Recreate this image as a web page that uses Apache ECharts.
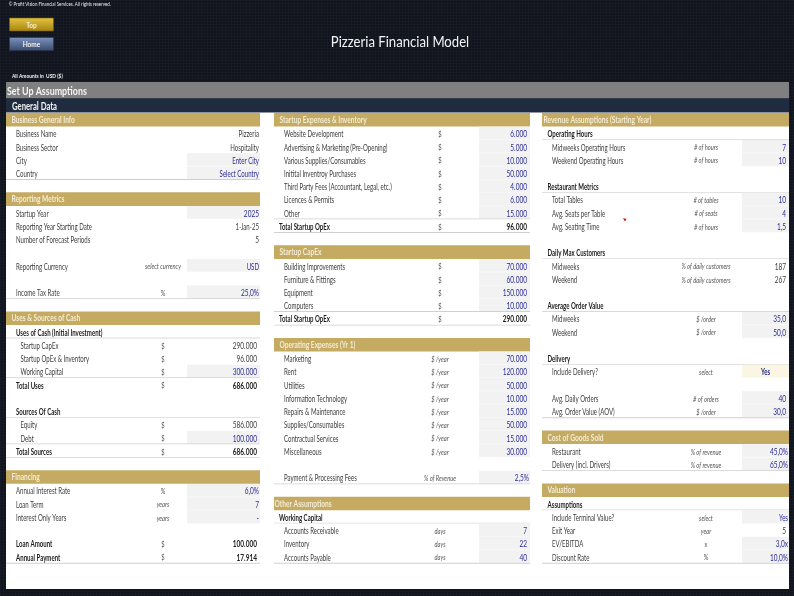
<!DOCTYPE html>
<html>
<head>
<meta charset="utf-8">
<style>html,body{margin:0;padding:0;background:#11141d}#main{width:794px;height:596px;filter:blur(0.35px)}</style>
<script src="https://cdn.jsdelivr.net/npm/echarts@6/dist/echarts.min.js"></script>
</head>
<body>
<div id="main"></div>
<script>
// rows: [label, unit, value, kind]  kind: in = input cell, sub = sub heading, tot = total, ind = indented, yes = select cell
const businessInfo = [
  ['Business Name', '', 'Pizzeria'],
  ['Business Sector', '', 'Hospitality'],
  ['City', '', 'Enter City', 'in'],
  ['Country', '', 'Select Country', 'in']
];
const reportingMetrics = [
  ['Startup Year', '', '2025', 'in'],
  ['Reporting Year Starting Date', '', '1-Jan-25'],
  ['Number of Forecast Periods', '', '5'],
  null,
  ['Reporting Currency', 'select currency', 'USD', 'in'],
  null,
  ['Income Tax Rate', '%', '25,0%', 'in']
];
const usesSources = [
  ['Uses of Cash (Initial Investment)', '', '', 'sub'],
  ['Startup CapEx', '$', '290.000', 'ind'],
  ['Startup OpEx & Inventory', '$', '96.000', 'ind'],
  ['Working Capital', '$', '300.000', 'indin'],
  ['Total Uses', '$', '686.000', 'tot'],
  null,
  ['Sources Of Cash', '', '', 'sub'],
  ['Equity', '$', '586.000', 'ind'],
  ['Debt', '$', '100.000', 'indin'],
  ['Total Sources', '$', '686.000', 'tot']
];
const financing = [
  ['Annual Interest Rate', '%', '6,0%', 'in'],
  ['Loan Term', 'years', '7', 'in'],
  ['Interest Only Years', 'years', '-', 'in'],
  null,
  ['Loan Amount', '$', '100.000', 'bold'],
  ['Annual Payment', '$', '17.914', 'bold']
];
const startupExpenses = [
  ['Website Development', '$', '6.000', 'in'],
  ['Advertising & Marketing (Pre-Opening)', '$', '5.000', 'in'],
  ['Various Supplies/Consumables', '$', '10.000', 'in'],
  ['Initital Inventroy Purchases', '$', '50.000', 'in'],
  ['Third Party Fees (Accountant, Legal, etc.)', '$', '4.000', 'in'],
  ['Licences & Permits', '$', '6.000', 'in'],
  ['Other', '$', '15.000', 'in'],
  ['Total Startup OpEx', '$', '96.000', 'tot']
];
const startupCapex = [
  ['Building Improvements', '$', '70.000', 'in'],
  ['Furniture & Fittings', '$', '60.000', 'in'],
  ['Equipment', '$', '150.000', 'in'],
  ['Computers', '$', '10.000', 'in'],
  ['Total Startup OpEx', '$', '290.000', 'tot']
];
const operatingExpenses = [
  ['Marketing', '$ /year', '70.000', 'in'],
  ['Rent', '$ /year', '120.000', 'in'],
  ['Utilities', '$ /year', '50.000', 'in'],
  ['Information Technology', '$ /year', '10.000', 'in'],
  ['Repairs & Maintenance', '$ /year', '15.000', 'in'],
  ['Supplies/Consumables', '$ /year', '50.000', 'in'],
  ['Contractual Services', '$ /year', '15.000', 'in'],
  ['Miscellaneous', '$ /year', '30.000', 'in'],
  null,
  ['Payment & Processing Fees', '% of Revenue', '2,5%', 'in']
];
const otherAssumptions = [
  ['Working Capital', '', '', 'sub'],
  ['Accounts Receivable', 'days', '7', 'in'],
  ['Inventory', 'days', '22', 'in'],
  ['Accounts Payable', 'days', '40', 'in']
];
const revenueAssumptions = [
  ['Operating Hours', '', '', 'sub'],
  ['Midweeks Operating Hours', '# of hours', '7', 'in'],
  ['Weekend Operating Hours', '# of hours', '10', 'in'],
  null,
  ['Restaurant Metrics', '', '', 'sub'],
  ['Total Tables', '# of tables', '10', 'in'],
  ['Avg. Seats per Table', '# of seats', '4', 'in'],
  ['Avg. Seating Time', '# of hours', '1,5', 'in'],
  null,
  ['Daily Max Customers', '', '', 'sub'],
  ['Midweeks', '% of daily customers', '187'],
  ['Weekend', '% of daily customers', '267'],
  null,
  ['Average Order Value', '', '', 'sub'],
  ['Midweeks', '$ /order', '35,0', 'in'],
  ['Weekend', '$ /order', '50,0', 'in'],
  null,
  ['Delivery', '', '', 'sub'],
  ['Include Delivery?', 'select', 'Yes', 'yes'],
  null,
  ['Avg. Daily Orders', '# of orders', '40', 'in'],
  ['Avg. Order Value (AOV)', '$ /order', '30,0', 'in']
];
const costOfGoods = [
  ['Restaurant', '% of revenue', '45,0%', 'in'],
  ['Delivery (incl. Drivers)', '% of revenue', '65,0%', 'in']
];
const valuation = [
  ['Assumptions', '', '', 'sub'],
  ['Include Terminal Value?', 'select', 'Yes', 'in'],
  ['Exit Year', 'year', '5'],
  ['EV/EBITDA', 'x', '3,0x', 'in'],
  ['Discount Rate', '%', '10,0%', 'in']
];

// column geometry, panel = [title, rows, start row on the shared sheet grid, title inset]
const columns = [
  { left: 6, right: 260, unitX: 163, boxX: 187, labelX: 16, subX: 16, totX: 16, panels: [
    ['Business General Info', businessInfo, -1, 5.5],
    ['Reporting Metrics', reportingMetrics, 5, 5.5],
    ['Uses & Sources of Cash', usesSources, 14, 5.5],
    ['Financing', financing, 26, 5.5]
  ] },
  { left: 274, right: 530, unitX: 440, boxX: 479, labelX: 284, subX: 279, totX: 279, panels: [
    ['Startup Expenses & Inventory', startupExpenses, -1, 5.5],
    ['Startup CapEx', startupCapex, 9, 5.5],
    ['Operating Expenses (Yr 1)', operatingExpenses, 16, 5.5],
    ['Other Assumptions', otherAssumptions, 28, 0.5]
  ] },
  { left: 542, right: 789, unitX: 706, boxX: 742, labelX: 552, subX: 547.5, totX: 547.5, panels: [
    ['Revenue Assumptions (Starting Year)', revenueAssumptions, -1, 1.5],
    ['Cost of Goods Sold', costOfGoods, 23, 5.5],
    ['Valuation', valuation, 27, 5.5]
  ] }
];

const ROW_H = 13.23;
const ROW_TOP = 126.2;
const FONT = 'Lato,"Liberation Sans",sans-serif';
const SQUEEZE = 0.66; // the sheet photo is squeezed sideways
const els = [];

function rect(x, y, w, h, fill) {
  els.push({ type: 'rect', silent: true, shape: { x, y, width: w, height: h }, style: { fill } });
}
function label(x, y, text, size, fill, opt) {
  opt = opt || {};
  els.push({
    type: 'text', silent: true, x, y, scaleX: opt.sx || SQUEEZE,
    style: {
      text, fill,
      font: (opt.italic ? 'italic ' : '') + (opt.bold ? 'bold ' : '') + size + 'px ' + FONT,
      align: opt.align || 'left', verticalAlign: 'middle'
    }
  });
}
function rowY(r) { return ROW_TOP + r * ROW_H; }

// sheet frame
const patternCanvas = document.createElement('canvas');
patternCanvas.width = patternCanvas.height = 3;
const pctx = patternCanvas.getContext('2d');
pctx.fillStyle = '#11141d';
pctx.fillRect(0, 0, 3, 3);
pctx.fillStyle = '#161a24';
pctx.fillRect(0, 0, 1, 3);
pctx.fillRect(0, 0, 3, 1);
els.push({ type: 'rect', silent: true, shape: { x: 0, y: 0, width: 794, height: 596 }, style: { fill: { image: patternCanvas, repeat: 'repeat' } } });
rect(6, 112, 783, 477, '#ffffff');
rect(6, 82, 783, 16.5, '#808080');
rect(6, 98.5, 783, 14, '#1f2c3f');

label(8.7, 4.5, '\u00a9 Profit Vision Financial Services. All rights reserved.', 5.4, '#e8e8e8', { sx: 0.82 });
label(12, 76, 'All Amounts in  USD ($)', 6.4, '#f2f2f2', { bold: true, sx: 0.76 });
label(400, 42, 'Pizzeria Financial Model', 16, '#f4f4f4', { align: 'center', sx: 0.82 });
label(7, 91, 'Set Up Assumptions', 12, '#f5f5f5', { bold: true, sx: 0.74 });
label(12, 106, 'General Data', 11, '#f2f2f2', { bold: true, sx: 0.7 });

// nav buttons
els.push({ type: 'rect', silent: true, shape: { x: 9.5, y: 18, width: 44, height: 13 }, style: {
  fill: new echarts.graphic.LinearGradient(0, 0, 0, 1, [{ offset: 0, color: '#e6c440' }, { offset: 1, color: '#a58412' }]),
  stroke: '#6f5c10', lineWidth: 0.6 } });
els.push({ type: 'rect', silent: true, shape: { x: 9.5, y: 37.5, width: 44, height: 13 }, style: {
  fill: new echarts.graphic.LinearGradient(0, 0, 0, 1, [{ offset: 0, color: '#7c93c0' }, { offset: 1, color: '#3b4a6b' }]),
  stroke: '#2a3550', lineWidth: 0.6 } });
label(31.5, 25, 'Top', 8, '#f5f0d8', { align: 'center', bold: true, sx: 0.82 });
label(31.5, 44.5, 'Home', 8, '#f0f0f0', { align: 'center', bold: true, sx: 0.82 });

columns.forEach(function (col) {
  const width = col.right - col.left;
  col.panels.forEach(function (panel) {
    const title = panel[0], rows = panel[1], start = panel[2], inset = panel[3];
    rect(col.left, rowY(start), width, ROW_H + 0.4, '#c5aa62');
    label(col.left + inset, rowY(start) + 6.8, title, 10, '#f3ecd6', { bold: true, sx: 0.66 });

    rows.forEach(function (row, i) {
      if (!row) return;
      const r = start + 1 + i;
      const top = rowY(r), mid = top + ROW_H / 2 + 1.5;
      const kind = row[3] || '';
      const isInput = kind === 'in' || kind === 'indin';
      const isBold = kind === 'sub' || kind === 'tot' || kind === 'bold';

      if (isInput) {
        rect(col.boxX, top + 0.5, col.right - col.boxX, ROW_H - 0.2, '#f2f2f2');
        rect(col.boxX, top + ROW_H - 0.2, col.right - col.boxX, 0.5, '#fafafa');
      }
      if (kind === 'yes') rect(col.boxX, top + 0.5, col.right - col.boxX, ROW_H - 0.2, '#fbf6e4');
      if (kind === 'sub') rect(col.left, top + ROW_H - 0.3, width, 0.8, '#d9d9d9');
      if (kind === 'tot') rect(col.left, top - 0.3, width, 0.8, '#d0d0d0');

      let x = col.labelX;
      if (kind === 'sub') x = col.subX;
      if (kind === 'tot' || kind === 'bold') x = col.totX;
      if (kind === 'ind' || kind === 'indin') x = col.labelX + 4.5;
      label(x, mid, row[0], 9.2, isBold ? '#1c1c1c' : '#3d3d3d', { bold: isBold });

      if (row[1]) label(col.unitX, mid, row[1], 8.4, '#555555', { align: 'center', sx: 0.69, italic: row[1] !== '$' && row[1] !== '%' && row[1] !== 'x' });

      if (row[2]) {
        const plain = /[0-9]$/.test(row[2]) && (col.left > 6 || row[1].indexOf('$') >= 0);
        const valueFill = isInput ? '#2b2b96' : (kind === 'yes' ? '#1f2a8c' : '#3d3d3d');
        const valueSx = /^[0-9,.\-%x]+$/.test(row[2]) ? 0.71 : SQUEEZE;
        if (kind === 'yes') {
          label((col.boxX + col.right) / 2, mid, row[2], 9.2, valueFill, { align: 'center', bold: true });
        } else {
          label(col.right - (plain ? 3 : 1), mid, row[2], 9.2, isBold ? '#1c1c1c' : valueFill, { align: 'right', bold: isBold, sx: valueSx });
        }
      }
      // closing rule of the panel
      if (i === rows.length - 1) rect(col.left, top + ROW_H, width, 0.9, '#cfcfcf');
    });
  });
});

// comment marker on the seats row
els.push({ type: 'polygon', silent: true, shape: { points: [[623, 218], [626.5, 219], [625, 221.5]] }, style: { fill: '#c8141e' } });

const chart = echarts.init(document.getElementById('main'), null, { renderer: 'canvas' });
chart.setOption({ backgroundColor: '#11141d', animation: false, graphic: { elements: els } });
</script>
</body>
</html>
